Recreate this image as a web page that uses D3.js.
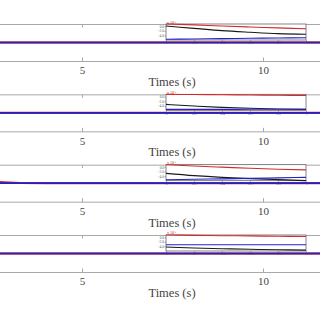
<!DOCTYPE html>
<html><head><meta charset="utf-8">
<script src="https://cdn.jsdelivr.net/npm/d3@7"></script>
<style>html,body{margin:0;padding:0;background:#fff;}svg{display:block;}</style>
</head><body>
<script>
// ---- data ----
const mainTimes = [2.7, 3.0, 3.3, 4, 6, 8, 10, 11.6];
const mainRed = [
  [0,0,0,0,0,0,0,0],
  [0,0,0,0,0,0,0,0],
  [0.06,0.03,0.01,0,0,0,0,0],
  [0,0,0,0,0,0,0,0]
];
const mainBlack = [
  [0,0,0,0,0,0,0,0],
  [0,0,0,0,0,0,0,0],
  [0,0,0,0,0,0,0,0],
  [0,0,0,0,0,0,0,0]
];
const mainBlue = [
  [0,0,0,0,0,0,0,0],
  [0,0,0,0,0,0,0,0],
  [0,0,0,0,0,0,0,0],
  [0,0,0,0,0,0,0,0]
];
const mainTicks = [5, 10];
const xLabel = "Times (s)";

// inset (zoomed) data, values in units of 10^-3
const insetTimes = [0, 0.2, 0.4, 0.6, 0.8, 1.0];
const insetTickLabels = ["0", "0.2", "0.4", "0.6", "0.8", "1"];
const insetYTicks = [0, -2, -4];
const insetRed = [
  [1.0, 0.6, 0.1, -0.3, -0.7, -1.1],
  [1.0, 0.9, 0.8, 0.7, 0.6, 0.5],
  [1.0, 0.4, -0.1, -0.6, -1.0, -1.3],
  [1.0, 0.85, 0.7, 0.6, 0.45, 0.35]
];
const insetBlack = [
  [0.1, -0.9, -1.9, -2.6, -3.2, -3.5],
  [-3.4, -4.1, -4.7, -5.1, -5.4, -5.6],
  [-2.8, -3.8, -4.55, -5.1, -5.55, -6.0],
  [-4.25, -4.7, -5.0, -5.25, -5.45, -5.6]
];
const insetBlue = [
  [-5.7, -5.55, -5.4, -5.25, -5.1, -5.0],
  [-5.6, -5.6, -5.6, -5.55, -5.55, -5.5],
  [-5.6, -5.4, -5.2, -5.0, -4.8, -4.55],
  [-3.3, -3.3, -3.3, -3.3, -3.3, -3.3]
];

// ---- drawing ----
const W = 320, H = 320;
const svg = d3.select("body").append("svg").attr("width", W).attr("height", H);
const x = d3.scaleLinear().domain([5, 10]).range([82, 263]);
const colors = {red: "#d42a2a", black: "#1a1a1a", blue: "#2222cc"};
const panelTop = i => 24 + i * 70.33;
const panelH = 37;

for (let i = 0; i < 4; i++) {
  const top = panelTop(i);
  const g = svg.append("g");
  const y = d3.scaleLinear().domain([-1, 1]).range([top + panelH, top]);
  // frame
  g.append("line").attr("x1", 0).attr("x2", W).attr("y1", top + 0.5).attr("y2", top + 0.5)
    .attr("stroke", "#a8a8a8").attr("stroke-width", 1);
  const axis = d3.axisBottom(x).tickValues(mainTicks).tickSize(-4).tickPadding(5).tickFormat(d3.format("d"));
  const ax = g.append("g").attr("transform", `translate(0,${top + panelH + 0.5})`).call(axis);
  ax.select(".domain").remove();
  ax.append("line").attr("x1", 0).attr("x2", W).attr("stroke", "#a8a8a8");
  ax.selectAll(".tick line").attr("stroke", "#a8a8a8");
  ax.selectAll(".tick text").attr("fill", "#444").attr("font-family", "Liberation Serif")
    .attr("font-size", 11);
  const topAx = d3.axisTop(x).tickValues(mainTicks).tickSize(-3).tickFormat("");
  const tax = g.append("g").attr("transform", `translate(0,${top + 0.5})`).call(topAx);
  tax.select(".domain").remove();
  tax.selectAll(".tick line").attr("stroke", "#a8a8a8");
  g.append("text").attr("x", 172).attr("y", top + panelH + 25).attr("text-anchor", "middle")
    .attr("font-family", "Liberation Serif").attr("font-size", 12.5).attr("fill", "#444").text(xLabel);

  const line = d3.line().x((d, k) => x(mainTimes[k])).y(d => y(d));
  g.append("path").datum(mainBlack[i]).attr("d", line).attr("fill", "none").attr("stroke", colors.black).attr("stroke-width", 1.5);
  g.append("path").datum(mainRed[i]).attr("d", line).attr("fill", "none").attr("stroke", colors.red).attr("stroke-width", 2);

  // inset
  const ix = d3.scaleLinear().domain([0, 1]).range([166, 306]);
  const iy = d3.scaleLinear().domain([-6, 1]).range([top + 16, top]);
  const ig = svg.append("g");
  ig.append("rect").attr("x", 166).attr("y", top).attr("width", 140).attr("height", 16)
    .attr("fill", "#fff").attr("stroke", "#666").attr("stroke-width", 0.8);
  const il = d3.line().x((d, k) => ix(insetTimes[k])).y(d => iy(d)).curve(d3.curveMonotoneX);
  ig.append("path").datum(insetRed[i]).attr("d", il).attr("fill", "none").attr("stroke", colors.red).attr("stroke-width", 1.1);
  ig.append("path").datum(insetBlack[i]).attr("d", il).attr("fill", "none").attr("stroke", colors.black).attr("stroke-width", 1.1);
  ig.append("path").datum(insetBlue[i]).attr("d", il).attr("fill", "none").attr("stroke", colors.blue).attr("stroke-width", 1.1);
  const ixa = d3.axisBottom(ix).tickValues(insetTimes).tickSize(1.5).tickPadding(0.5)
    .tickFormat((d, k) => insetTickLabels[k]);
  const ixg = ig.append("g").attr("transform", `translate(0,${top + 16})`).call(ixa);
  ixg.select(".domain").remove();
  ixg.selectAll("text").attr("font-size", 3.5).attr("fill", "#666").attr("font-family", "Liberation Serif");
  ixg.selectAll("line").attr("stroke", "#666").attr("stroke-width", 0.5);
  const iya = d3.axisLeft(iy).tickValues(insetYTicks).tickSize(1.5).tickPadding(0.5);
  const iyg = ig.append("g").attr("transform", "translate(166,0)").call(iya);
  iyg.select(".domain").remove();
  iyg.selectAll("text").attr("font-size", 3.5).attr("fill", "#555").attr("font-family", "Liberation Serif");
  iyg.selectAll("line").attr("stroke", "#666").attr("stroke-width", 0.5);
  ig.append("text").attr("x", 167).attr("y", top - 0.5).attr("font-size", 4)
    .attr("font-family", "Liberation Serif").attr("fill", "#a33").text("x 10⁻³");

  // main blue on top
  svg.append("path").datum(mainBlue[i]).attr("d", line).attr("fill", "none").attr("stroke", colors.blue).attr("stroke-width", 1.6);
}
</script>
</body></html>
